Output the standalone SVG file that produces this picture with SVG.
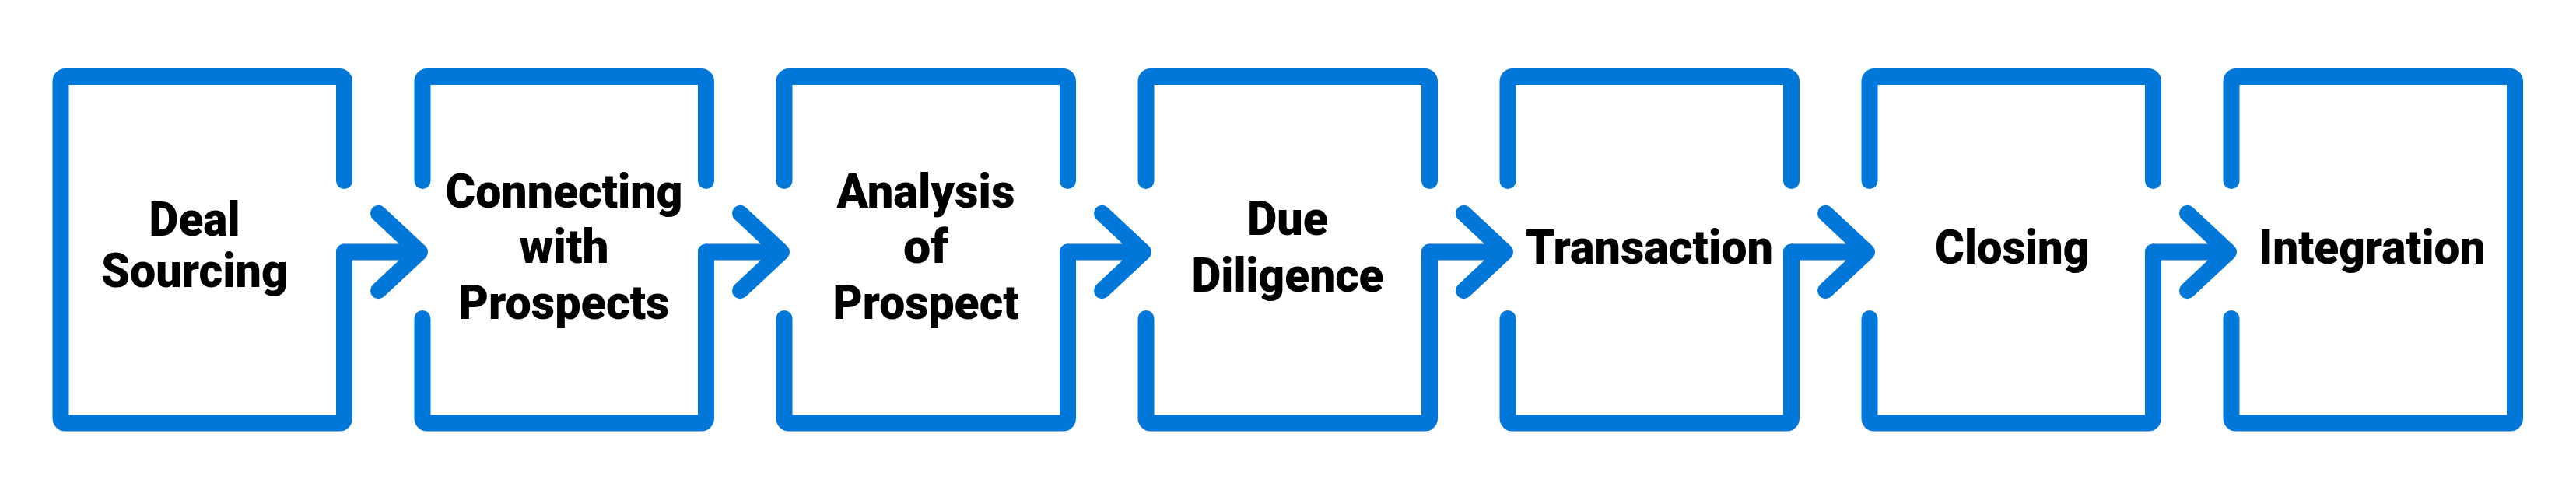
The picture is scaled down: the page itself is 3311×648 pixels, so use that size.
<svg xmlns="http://www.w3.org/2000/svg" width="3311" height="648" viewBox="0 0 3311 648">
<style>
.ln{fill:none;stroke:#0077d9;stroke-width:21;stroke-linecap:round;stroke-linejoin:round}
.t{font-family:Roboto,"Liberation Sans",sans-serif;font-weight:900;font-size:62px;fill:#000;text-anchor:middle}
</style>
<rect width="3311" height="648" fill="#fff"/>
<g id="node1">
<path class="ln" d="M442.5,232.5 V104.5 A6,6 0 0 0 436.5,98.5 H84 A6,6 0 0 0 78,104.5 V538 A6,6 0 0 0 84,544 H436.5 A6,6 0 0 0 442.5,538 V324"/>
<text class="t" x="250" y="303" textLength="117" lengthAdjust="spacingAndGlyphs">Deal</text>
<text class="t" x="250" y="369" textLength="240" lengthAdjust="spacingAndGlyphs">Sourcing</text>
</g>
<g id="node2">
<path class="ln" d="M907.5,232.5 V104.5 A6,6 0 0 0 901.5,98.5 H549 A6,6 0 0 0 543,104.5 V232.5 M543,409.5 V538 A6,6 0 0 0 549,544 H901.5 A6,6 0 0 0 907.5,538 V324"/>
<text class="t" x="725" y="267" textLength="305" lengthAdjust="spacingAndGlyphs">Connecting</text>
<text class="t" x="725" y="338" textLength="115" lengthAdjust="spacingAndGlyphs">with</text>
<text class="t" x="725" y="410" textLength="271" lengthAdjust="spacingAndGlyphs">Prospects</text>
</g>
<g id="node3">
<path class="ln" d="M1372.5,232.5 V104.5 A6,6 0 0 0 1366.5,98.5 H1014 A6,6 0 0 0 1008,104.5 V232.5 M1008,409.5 V538 A6,6 0 0 0 1014,544 H1366.5 A6,6 0 0 0 1372.5,538 V324"/>
<text class="t" x="1190" y="267" textLength="229" lengthAdjust="spacingAndGlyphs">Analysis</text>
<text class="t" x="1190" y="338" textLength="58" lengthAdjust="spacingAndGlyphs">of</text>
<text class="t" x="1190" y="410" textLength="239" lengthAdjust="spacingAndGlyphs">Prospect</text>
</g>
<g id="node4">
<path class="ln" d="M1837.5,232.5 V104.5 A6,6 0 0 0 1831.5,98.5 H1479 A6,6 0 0 0 1473,104.5 V232.5 M1473,409.5 V538 A6,6 0 0 0 1479,544 H1831.5 A6,6 0 0 0 1837.5,538 V324"/>
<text class="t" x="1655" y="302" textLength="104" lengthAdjust="spacingAndGlyphs">Due</text>
<text class="t" x="1655" y="375" textLength="247" lengthAdjust="spacingAndGlyphs">Diligence</text>
</g>
<g id="node5">
<path class="ln" d="M2302.5,232.5 V104.5 A6,6 0 0 0 2296.5,98.5 H1944 A6,6 0 0 0 1938,104.5 V232.5 M1938,409.5 V538 A6,6 0 0 0 1944,544 H2296.5 A6,6 0 0 0 2302.5,538 V324"/>
<text class="t" x="2120" y="339" textLength="318" lengthAdjust="spacingAndGlyphs">Transaction</text>
</g>
<g id="node6">
<path class="ln" d="M2767.5,232.5 V104.5 A6,6 0 0 0 2761.5,98.5 H2409 A6,6 0 0 0 2403,104.5 V232.5 M2403,409.5 V538 A6,6 0 0 0 2409,544 H2761.5 A6,6 0 0 0 2767.5,538 V324"/>
<text class="t" x="2586" y="339" textLength="198" lengthAdjust="spacingAndGlyphs">Closing</text>
</g>
<g id="node7">
<path class="ln" d="M2868,232.5 V104.5 A6,6 0 0 1 2874,98.5 H3226.5 A6,6 0 0 1 3232.5,104.5 V538 A6,6 0 0 1 3226.5,544 H2874 A6,6 0 0 1 2868,538 V409.5"/>
<text class="t" x="3049" y="339" textLength="291" lengthAdjust="spacingAndGlyphs">Integration</text>
</g>
<g id="connectors">
<path class="ln" d="M442.5,324 H539.5 M486.5,274.3 L539.5,324 L486.5,373.7"/>
<path class="ln" d="M907.5,324 H1004.5 M951.5,274.3 L1004.5,324 L951.5,373.7"/>
<path class="ln" d="M1372.5,324 H1469.5 M1416.5,274.3 L1469.5,324 L1416.5,373.7"/>
<path class="ln" d="M1837.5,324 H1934.5 M1881.5,274.3 L1934.5,324 L1881.5,373.7"/>
<path class="ln" d="M2302.5,324 H2399.5 M2346.5,274.3 L2399.5,324 L2346.5,373.7"/>
<path class="ln" d="M2767.5,324 H2864.5 M2811.5,274.3 L2864.5,324 L2811.5,373.7"/>
</g>
</svg>
